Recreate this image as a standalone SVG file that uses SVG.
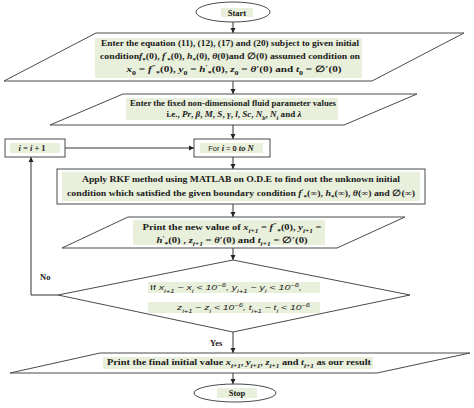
<svg xmlns="http://www.w3.org/2000/svg" width="474" height="408" viewBox="0 0 474 408">
<defs>
<marker id="ah" markerWidth="6" markerHeight="6" refX="5" refY="3" orient="auto" markerUnits="userSpaceOnUse">
<path d="M0,0.5 L5,3 L0,5.5 Z" fill="#222"/>
</marker>
<style>
.shape{fill:#fff;stroke:#4a4a4a;stroke-width:1}
.hl{fill:#e8efda}
.t{font-family:"Liberation Serif","Times New Roman",serif;font-weight:bold;font-size:8.5px;fill:#1a1a1a}
.s{font-family:"Liberation Sans",Arial,sans-serif;font-size:7.5px;fill:#1a1a1a;font-style:italic}
.m{font-style:italic}
.c{stroke:#333;stroke-width:1;fill:none}
</style>
</defs>
<rect width="474" height="408" fill="#fff"/>

<g id="connectors">
<line class="c" x1="233" y1="22" x2="233" y2="33" marker-end="url(#ah)"/>
<line class="c" x1="233" y1="81" x2="233" y2="94" marker-end="url(#ah)"/>
<line class="c" x1="233" y1="125" x2="233" y2="139" marker-end="url(#ah)"/>
<line class="c" x1="65" y1="148" x2="194" y2="148" marker-end="url(#ah)"/>
<line class="c" x1="233" y1="157" x2="233" y2="169" marker-end="url(#ah)"/>
<line class="c" x1="233" y1="204" x2="233" y2="217" marker-end="url(#ah)"/>
<line class="c" x1="233" y1="248" x2="233" y2="260" marker-end="url(#ah)"/>
<polyline class="c" points="58,295 31,295 31,157" marker-end="url(#ah)"/>
<line class="c" x1="233" y1="332" x2="233" y2="353" marker-end="url(#ah)"/>
<line class="c" x1="233" y1="373" x2="233" y2="384" marker-end="url(#ah)"/>
<text class="t" x="40" y="280">No</text>
<text class="t" x="210" y="346">Yes</text>
</g>

<g id="start">
<ellipse class="shape" cx="233" cy="12" rx="37" ry="10"/>
<rect class="hl" x="221" y="8" width="32" height="9"/>
<text class="t" x="237" y="16" text-anchor="middle">Start</text>
</g>

<g id="input-equations">
<polygon class="shape" points="96,33 464,33 372,81 4,81"/>
<rect class="hl" x="95" y="38" width="267" height="40"/>
<text class="t" x="230" y="46" text-anchor="middle" textLength="258" lengthAdjust="spacingAndGlyphs">Enter the equation (11), (12), (17) and (20) subject to given initial</text>
<text class="t" x="230" y="59" text-anchor="middle" textLength="260" lengthAdjust="spacingAndGlyphs">condition<tspan class="m">f</tspan><tspan font-size="6" baseline-shift="sub">*</tspan>(0), <tspan class="m">f</tspan><tspan font-size="6" baseline-shift="super">′</tspan><tspan font-size="6" baseline-shift="sub">*</tspan>(0), <tspan class="m">h</tspan><tspan font-size="6" baseline-shift="sub">*</tspan>(0), <tspan class="m">θ</tspan>(0)and ∅(0) assumed condition on</text>
<text class="t" x="234" y="72" text-anchor="middle" textLength="215" lengthAdjust="spacingAndGlyphs"><tspan class="m">x</tspan><tspan font-size="6" baseline-shift="sub">0</tspan> = <tspan class="m">f</tspan><tspan font-size="6" baseline-shift="super">″</tspan><tspan font-size="6" baseline-shift="sub">*</tspan>(0), <tspan class="m">y</tspan><tspan font-size="6" baseline-shift="sub">0</tspan> = <tspan class="m">h</tspan><tspan font-size="6" baseline-shift="super">′</tspan><tspan font-size="6" baseline-shift="sub">*</tspan>(0), <tspan class="m">z</tspan><tspan font-size="6" baseline-shift="sub">0</tspan> = <tspan class="m">θ</tspan>′(0) and <tspan class="m">t</tspan><tspan font-size="6" baseline-shift="sub">0</tspan> = ∅′(0)</text>
</g>

<g id="input-parameters">
<polygon class="shape" points="123,94 417,94 344,125 50,125"/>
<rect class="hl" x="126" y="98" width="212" height="22"/>
<text class="t" x="233" y="106" text-anchor="middle" textLength="206" lengthAdjust="spacingAndGlyphs">Enter the fixed non-dimensional fluid parameter values</text>
<text class="t" x="234" y="117" text-anchor="middle" textLength="135" lengthAdjust="spacingAndGlyphs">i.e., <tspan class="m">Pr</tspan>, <tspan class="m">β</tspan>, <tspan class="m">M</tspan>, <tspan class="m">S</tspan>, <tspan class="m">γ</tspan>, <tspan class="m">l</tspan>, <tspan class="m">Sc</tspan>, <tspan class="m">N</tspan><tspan font-size="6" baseline-shift="sub" class="m">b</tspan>, <tspan class="m">N</tspan><tspan font-size="6" baseline-shift="sub" class="m">t</tspan> and <tspan class="m">λ</tspan></text>
</g>

<g id="increment">
<rect class="shape" x="5" y="139" width="60" height="18"/>
<rect class="hl" x="10" y="143" width="50" height="10"/>
<text class="t" x="32" y="151" text-anchor="middle"><tspan class="m">i</tspan> = <tspan class="m">i</tspan> + 1</text>
</g>

<g id="loop">
<rect class="shape" x="194" y="139" width="76" height="18"/>
<rect class="hl" x="200" y="143" width="63" height="10"/>
<text x="231" y="151" text-anchor="middle" style="font-family:'Liberation Sans',Arial,sans-serif;font-size:7.5px;fill:#1a1a1a">For <tspan style="font-family:'Liberation Serif',serif;font-weight:bold;font-style:italic;font-size:8.5px">i</tspan> = <tspan style="font-weight:bold">0</tspan> <tspan style="font-family:'Liberation Serif',serif;font-weight:bold;font-style:italic;font-size:8.5px">to N</tspan></text>
</g>

<g id="rkf">
<rect class="shape" x="57" y="169" width="368" height="35"/>
<rect class="hl" x="62" y="172" width="358" height="29"/>
<text class="t" x="241" y="182" text-anchor="middle" textLength="318" lengthAdjust="spacingAndGlyphs">Apply RKF method using MATLAB on O.D.E to find out the unknown initial</text>
<text class="t" x="241" y="196" text-anchor="middle" textLength="348" lengthAdjust="spacingAndGlyphs">condition which satisfied the given boundary condition <tspan class="m">f</tspan><tspan font-size="6" baseline-shift="super">′</tspan><tspan font-size="6" baseline-shift="sub">*</tspan>(∞),  <tspan class="m">h</tspan><tspan font-size="6" baseline-shift="sub">*</tspan>(∞), <tspan class="m">θ</tspan>(∞) and ∅(∞)</text>
</g>

<g id="print-new">
<polygon class="shape" points="128,217 405,217 337,248 62,248"/>
<rect class="hl" x="133" y="220" width="192" height="25"/>
<text class="t" x="232" y="230" text-anchor="middle" textLength="179" lengthAdjust="spacingAndGlyphs">Print the new value of <tspan class="m">x</tspan><tspan font-size="6" baseline-shift="sub" class="m">i+1</tspan> = <tspan class="m">f</tspan><tspan font-size="6" baseline-shift="super">″</tspan><tspan font-size="6" baseline-shift="sub">*</tspan>(0), <tspan class="m">y</tspan><tspan font-size="6" baseline-shift="sub" class="m">i+1</tspan> =</text>
<text class="t" x="232" y="243" text-anchor="middle" textLength="151" lengthAdjust="spacingAndGlyphs"><tspan class="m">h</tspan><tspan font-size="6" baseline-shift="super">′</tspan><tspan font-size="6" baseline-shift="sub">*</tspan>(0) , <tspan class="m">z</tspan><tspan font-size="6" baseline-shift="sub" class="m">i+1</tspan> = <tspan class="m">θ</tspan>′(0) and <tspan class="m">t</tspan><tspan font-size="6" baseline-shift="sub" class="m">i+1</tspan> = ∅′(0)</text>
</g>

<g id="check">
<polygon class="shape" points="233,260 410,295 233,332 58,295"/>
<rect class="hl" x="148" y="282" width="172" height="11"/>
<rect class="hl" x="148" y="302" width="172" height="11"/>
<text class="s" x="150" y="290" textLength="152" lengthAdjust="spacingAndGlyphs"><tspan style="font-style:normal">If</tspan>  <tspan>x</tspan><tspan font-size="5.5" baseline-shift="sub">i+1</tspan> − <tspan>x</tspan><tspan font-size="5.5" baseline-shift="sub">i</tspan> &lt; 10<tspan font-size="5.5" baseline-shift="super">−6</tspan>,  <tspan>y</tspan><tspan font-size="5.5" baseline-shift="sub">i+1</tspan> − <tspan>y</tspan><tspan font-size="5.5" baseline-shift="sub">i</tspan> &lt; 10<tspan font-size="5.5" baseline-shift="super">−6</tspan>,</text>
<text class="s" x="177" y="310" textLength="133" lengthAdjust="spacingAndGlyphs">z<tspan font-size="5.5" baseline-shift="sub">i+1</tspan> − z<tspan font-size="5.5" baseline-shift="sub">i</tspan> &lt; 10<tspan font-size="5.5" baseline-shift="super">−6</tspan>, t<tspan font-size="5.5" baseline-shift="sub">i+1</tspan> − t<tspan font-size="5.5" baseline-shift="sub">i</tspan> &lt; 10<tspan font-size="5.5" baseline-shift="super">−6</tspan></text>
</g>

<g id="print-final">
<polygon class="shape" points="100,353 470,353 377,373 10,373"/>
<rect class="hl" x="103" y="357" width="270" height="12"/>
<text class="t" x="239" y="365" text-anchor="middle" textLength="264" lengthAdjust="spacingAndGlyphs">Print the final initial value <tspan class="m">x</tspan><tspan font-size="6" baseline-shift="sub" class="m">i+1</tspan>, <tspan class="m">y</tspan><tspan font-size="6" baseline-shift="sub" class="m">i+1</tspan>, <tspan class="m">z</tspan><tspan font-size="6" baseline-shift="sub" class="m">i+1</tspan>  and <tspan class="m">t</tspan><tspan font-size="6" baseline-shift="sub" class="m">i+1</tspan> as our result</text>
</g>

<g id="stop">
<ellipse class="shape" cx="235" cy="393" rx="41" ry="9"/>
<rect class="hl" x="217" y="388" width="40" height="10"/>
<text class="t" x="237" y="396" text-anchor="middle">Stop</text>
</g>
</svg>
